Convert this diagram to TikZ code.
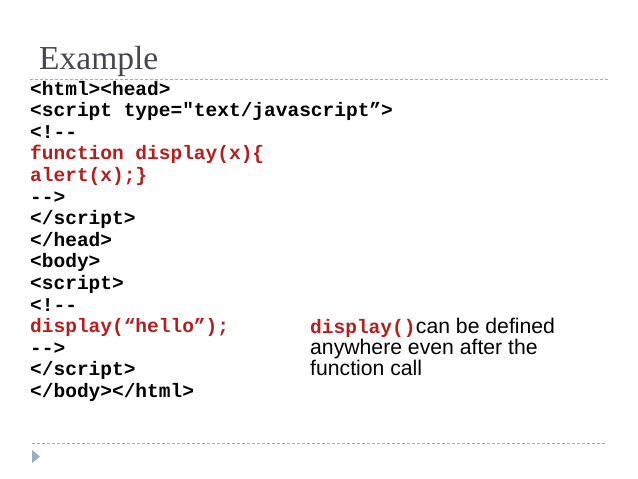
\documentclass[tikz,border=0pt]{standalone}
\usepackage{fontspec}
\setmainfont{Liberation Serif}
\newfontfamily\codef{Liberation Mono}
\newfontfamily\sansf{Liberation Sans}
\definecolor{cred}{RGB}{180,30,30}
\definecolor{rule}{RGB}{150,175,195}
\definecolor{ttl}{RGB}{70,70,80}
\begin{document}
\begin{tikzpicture}[x=1pt,y=-1pt,
  code/.style={anchor=base west,inner sep=0,font=\codef\bfseries\fontsize{19.5}{20}\selectfont},
  note/.style={anchor=base west,inner sep=0,font=\sansf\fontsize{21.2}{22}\selectfont}]
\useasboundingbox (0,0) rectangle (638,479);
\node[anchor=base west,inner sep=0,text=ttl,font=\fontsize{33.5}{35}\selectfont] (t) at (39,69) {Example};
\coordinate (l1a) at (30,79); \coordinate (l1b) at (608,79);
\draw[rule,densely dashed,line width=0.8] (l1a) -- (l1b);
\coordinate (l2a) at (32,443); \coordinate (l2b) at (607,443);
\draw[rule,densely dashed,line width=0.8] (l2a) -- (l2b);
\fill[rule] (32,450) -- (40,456.5) -- (32,463) -- cycle;
\foreach \t [count=\i] in {{<html><head>},{<script type="text/javascript”>},{<!--},{\textcolor{cred}{function display(x)\{}},{\textcolor{cred}{alert(x);\}}},{-->},{</script>},{</head>},{<body>},{<script>},{<!--},{\textcolor{cred}{display(“hello”);}},{-->},{</script>},{</body></html>}}
  \node[code] (c\i) at (30,{95+21.6*(\i-1)}) {\t};
\node[code,text=cred] (d) at (310,333) {display()};
\node[note] (n1) at (d.base east) {can be defined};
\node[note] (n2) at (310,354) {anywhere even after the};
\node[note] (n3) at (310,375) {function call};
\end{tikzpicture}
\end{document}
